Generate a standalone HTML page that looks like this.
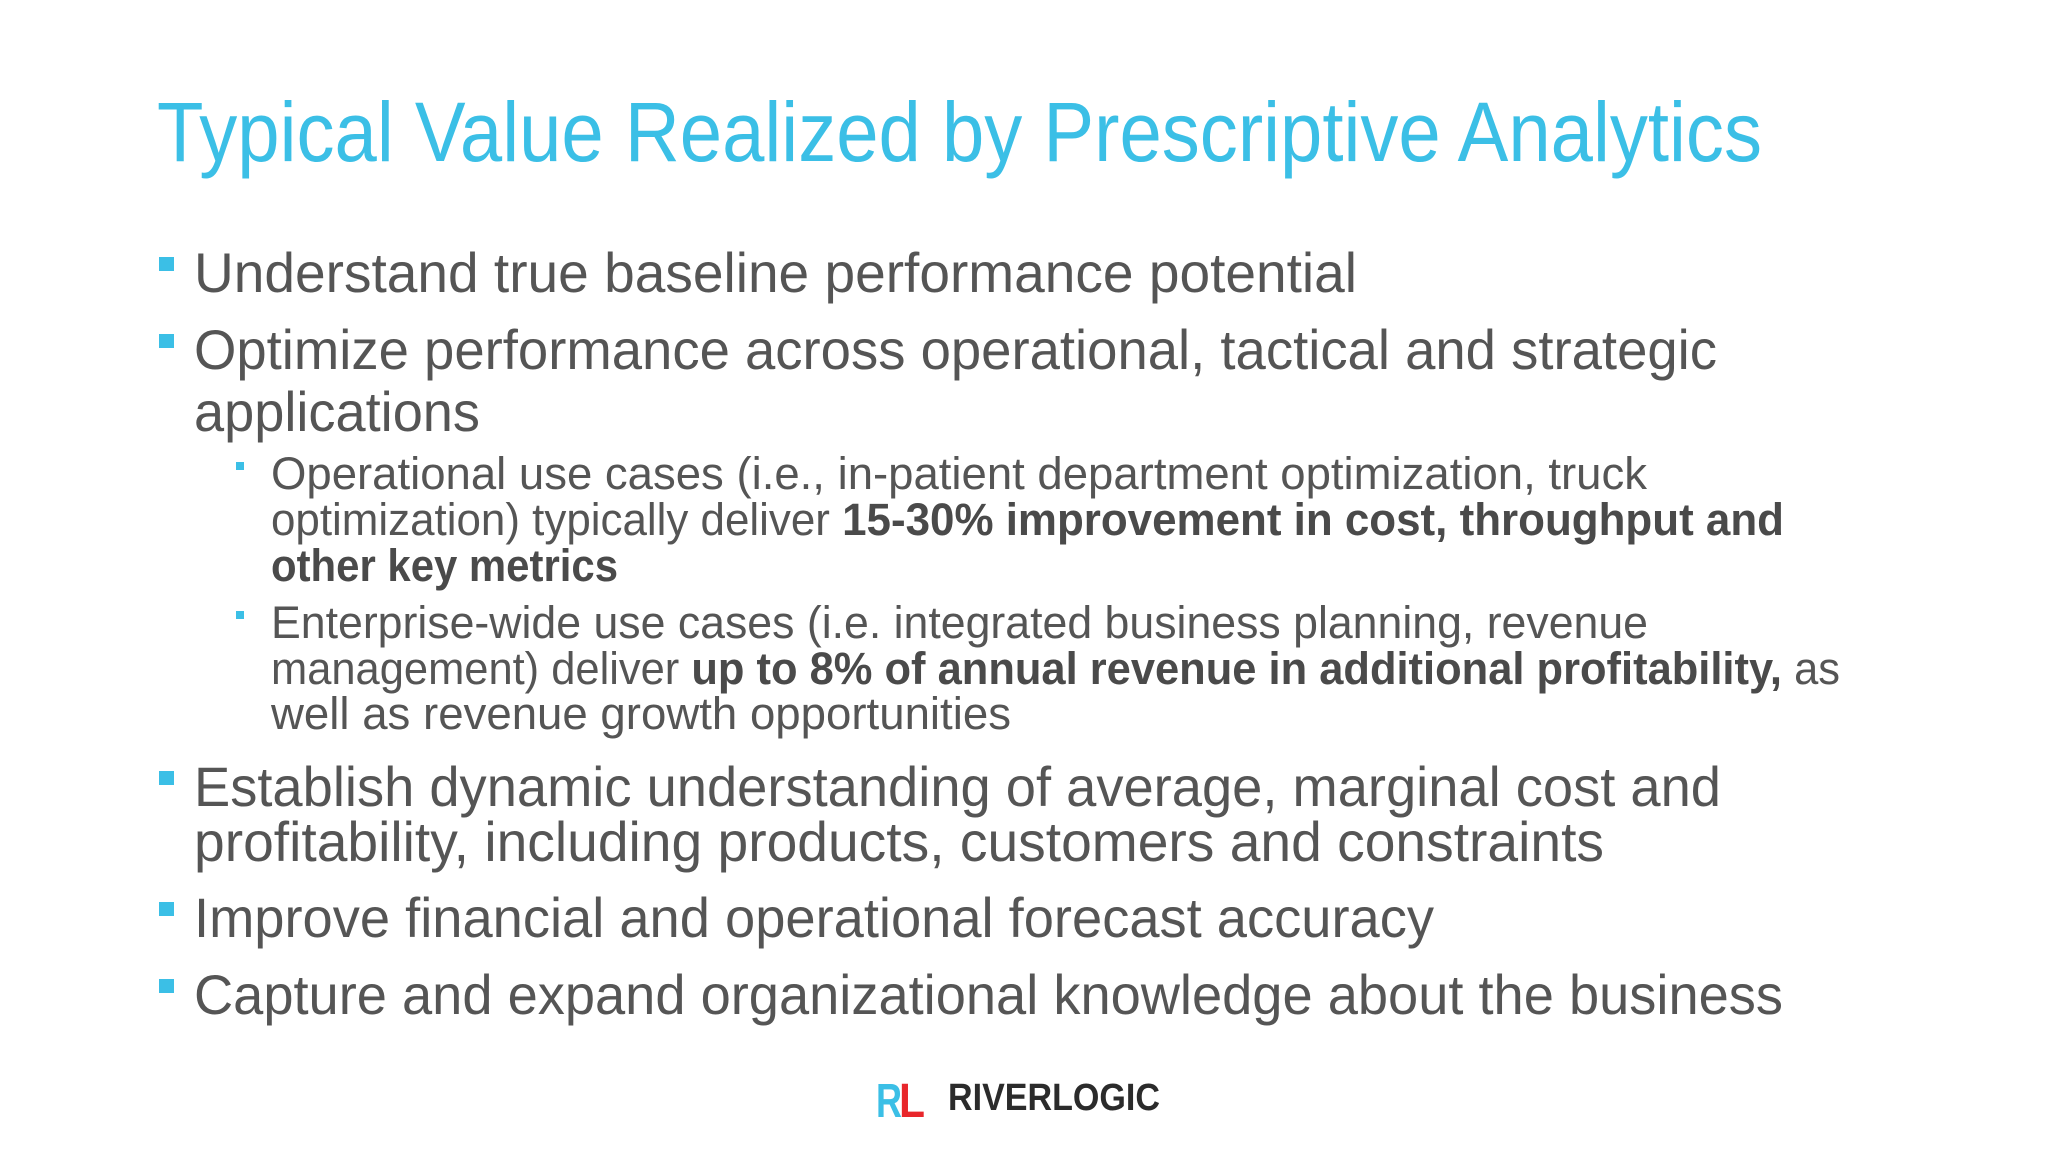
<!DOCTYPE html>
<html><head><meta charset="utf-8"><style>
html,body{margin:0;padding:0;background:#fff;}
svg{display:block;}
text{font-family:"Liberation Sans",sans-serif;fill:#555555;}
.t{fill:#3bbfe6;font-size:84px;}
.b{font-size:56px;}
.s{font-size:45px;}
.bd{font-weight:bold;fill:#4a4a4a;}
</style></head><body>
<svg width="2048" height="1152" viewBox="0 0 2048 1152">
<rect width="2048" height="1152" fill="#fff"/>
<text class="t" x="157" y="161" textLength="1605" lengthAdjust="spacingAndGlyphs">Typical Value Realized by Prescriptive Analytics</text>

<g fill="#3bbfe6">
<rect x="159" y="257" width="15" height="14"/>
<rect x="159" y="334" width="15" height="14"/>
<rect x="236" y="462" width="8" height="8"/>
<rect x="236" y="611" width="8" height="8"/>
<rect x="159" y="771" width="15" height="14"/>
<rect x="159" y="902" width="15" height="14"/>
<rect x="159" y="979" width="15" height="14"/>
</g>

<text class="b" x="194" y="292" textLength="1163" lengthAdjust="spacingAndGlyphs">Understand true baseline performance potential</text>
<text class="b" x="194" y="369" textLength="1523" lengthAdjust="spacingAndGlyphs">Optimize performance across operational, tactical and strategic</text>
<text class="b" x="194" y="431" textLength="286" lengthAdjust="spacingAndGlyphs">applications</text>

<text class="s" x="271" y="489" textLength="1376" lengthAdjust="spacingAndGlyphs">Operational use cases (i.e., in-patient department optimization, truck</text>
<text class="s" x="271" y="535" textLength="1513" lengthAdjust="spacingAndGlyphs">optimization) typically deliver <tspan class="bd">15-30% improvement in cost, throughput and</tspan></text>
<text class="s bd" x="271" y="581" textLength="347" lengthAdjust="spacingAndGlyphs">other key metrics</text>

<text class="s" x="271" y="638" textLength="1377" lengthAdjust="spacingAndGlyphs">Enterprise-wide use cases (i.e. integrated business planning, revenue</text>
<text class="s" x="271" y="684" textLength="1569" lengthAdjust="spacingAndGlyphs">management) deliver <tspan class="bd">up to 8% of annual revenue in additional profitability,</tspan> as</text>
<text class="s" x="271" y="729" textLength="740" lengthAdjust="spacingAndGlyphs">well as revenue growth opportunities</text>

<text class="b" x="194" y="806" textLength="1527" lengthAdjust="spacingAndGlyphs">Establish dynamic understanding of average, marginal cost and</text>
<text class="b" x="194" y="861" textLength="1410" lengthAdjust="spacingAndGlyphs">profitability, including products, customers and constraints</text>
<text class="b" x="194" y="937" textLength="1240" lengthAdjust="spacingAndGlyphs">Improve financial and operational forecast accuracy</text>
<text class="b" x="194" y="1014" textLength="1589" lengthAdjust="spacingAndGlyphs">Capture and expand organizational knowledge about the business</text>

<g>
<text x="876" y="1117" font-size="48" font-weight="bold" style="fill:#3bbfe6" textLength="26" lengthAdjust="spacingAndGlyphs">R</text>
<text x="899" y="1117" font-size="48" font-weight="bold" style="fill:#e8262b" textLength="26" lengthAdjust="spacingAndGlyphs">L</text>
<text x="948" y="1110" font-size="38" font-weight="bold" style="fill:#2b2b2b" textLength="212" lengthAdjust="spacingAndGlyphs">RIVERLOGIC</text>
</g>
</svg>
</body></html>
